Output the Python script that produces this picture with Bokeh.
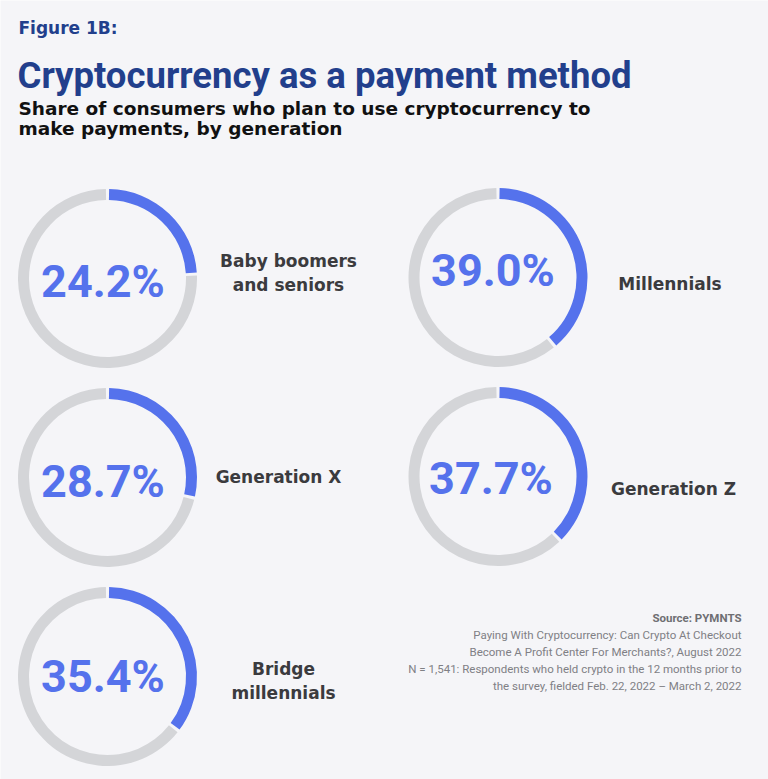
import math
from bokeh.plotting import figure
from bokeh.models import ColumnDataSource, Range1d
from bokeh.core.properties import value
from bokeh.embed import file_html
from bokeh.resources import INLINE

# ---- data ----
categories = ["Baby boomers\nand seniors", "Millennials", "Generation X", "Generation Z", "Bridge\nmillennials"]
shares = [24.2, 39.0, 28.7, 37.7, 35.4]
fig_label = "Figure 1B:"
title = "Cryptocurrency as a payment method"
subtitle = ["Share of consumers who plan to use cryptocurrency to", "make payments, by generation"]
source_bold = "Source: PYMNTS"
source_lines = ["Paying With Cryptocurrency: Can Crypto At Checkout",
                "Become A Profit Center For Merchants?, August 2022",
                "N = 1,541: Respondents who held crypto in the 12 months prior to",
                "the survey, fielded Feb. 22, 2022 \u2013 March 2, 2022"]

# ---- layout (reference pixel coordinates) ----
W, H = 768, 779
ring_cx = [107, 497.5, 107, 497.5, 107]
ring_cy = [278, 277, 477, 476, 676]
pct_x = [102.5, 492.5, 102.5, 490.5, 102.5]
pct_y = [281, 270, 481, 478, 676]
lab_x = [288, 669.5, 278, 673, 283]
lab_y = [272, 283, 476, 488, 680]
R_OUT, R_IN = 89.5, 78.5
GAP = 0.018

BG = "#f5f5f8"
BLUE = "#5572ec"
GREY = "#d4d5d8"
NAVY = "#223f8c"
HEAVY = "DejaVu Sans"

def fx(x):
    return x

def fy(y):
    return H - y

p = figure(width=W, height=H, output_backend="svg", toolbar_location=None,
           x_range=Range1d(0, W), y_range=Range1d(0, H), min_border=0)
p.axis.visible = False
p.grid.visible = False
p.outline_line_color = None
p.background_fill_color = BG
p.border_fill_color = BG

# rings
xs = [fx(v) for v in ring_cx]
ys = [fy(v) for v in ring_cy]
top = math.pi / 2
blue_src = ColumnDataSource(dict(
    x=xs, y=ys,
    s=[top - GAP for _ in shares],
    e=[top - 2 * math.pi * v / 100 + GAP for v in shares]))
grey_src = ColumnDataSource(dict(
    x=xs, y=ys,
    s=[top + GAP for _ in shares],
    e=[top - 2 * math.pi * v / 100 - GAP for v in shares]))
p.annular_wedge(x="x", y="y", inner_radius=R_IN, outer_radius=R_OUT,
                start_angle="s", end_angle="e", direction="anticlock",
                fill_color=GREY, line_color=None, source=grey_src)
p.annular_wedge(x="x", y="y", inner_radius=R_IN, outer_radius=R_OUT,
                start_angle="s", end_angle="e", direction="clock",
                fill_color=BLUE, line_color=None, source=blue_src)

# percentages
pct_src = ColumnDataSource(dict(
    x=[fx(v) for v in pct_x], y=[fy(v) for v in pct_y],
    t=["%.1f%%" % v for v in shares]))
p.text(x="x", y="y", text="t", source=pct_src, text_align="center",
       text_baseline="middle", text_font=value("Roboto"), text_font_style="bold",
       text_font_size="45px", text_color=BLUE)

# category labels
lx, ly, lt = [], [], []
for c, x0, y0 in zip(categories, lab_x, lab_y):
    parts = c.split("\n")
    n = len(parts)
    for i, part in enumerate(parts):
        lx.append(fx(x0))
        ly.append(fy(y0 + (i - (n - 1) / 2) * 24))
        lt.append(part)
p.text(x=lx, y=ly, text=lt, text_align="center", text_baseline="middle",
       text_font=value(HEAVY), text_font_style="bold",
       text_font_size="17px", text_color="#3b3b3e")

# titles
p.text(x=[fx(18)], y=[fy(27)], text=[fig_label], text_baseline="alphabetic",
       text_font=value(HEAVY), text_font_style="bold", text_font_size="17px",
       text_color=NAVY)
p.text(x=[fx(17)], y=[fy(75)], text=[title], text_baseline="alphabetic",
       text_font=value("Roboto"), text_font_style="bold", text_font_size="36.5px",
       text_color=NAVY)
p.text(x=[fx(18), fx(18)], y=[fy(108), fy(128)], text=subtitle, text_baseline="alphabetic",
       text_font=value(HEAVY), text_font_style="bold", text_font_size="18.5px",
       text_color="#111111")

# source
p.text(x=[fx(741)], y=[fy(617)], text=[source_bold], text_align="right",
       text_baseline="middle", text_font=value("Roboto"), text_font_style="bold",
       text_font_size="11.5px", text_color="#6e6e72")
p.text(x=[fx(741)] * len(source_lines), y=[fy(634 + 17 * i) for i in range(len(source_lines))],
       text=source_lines, text_align="right", text_baseline="middle",
       text_font=value("Roboto"), text_font_size="11.5px", text_color="#808085")

html = file_html(p, INLINE)
html = html.replace("<body>", '<body style="background:%s">' % BG, 1)
open("out.html", "w").write(html)
